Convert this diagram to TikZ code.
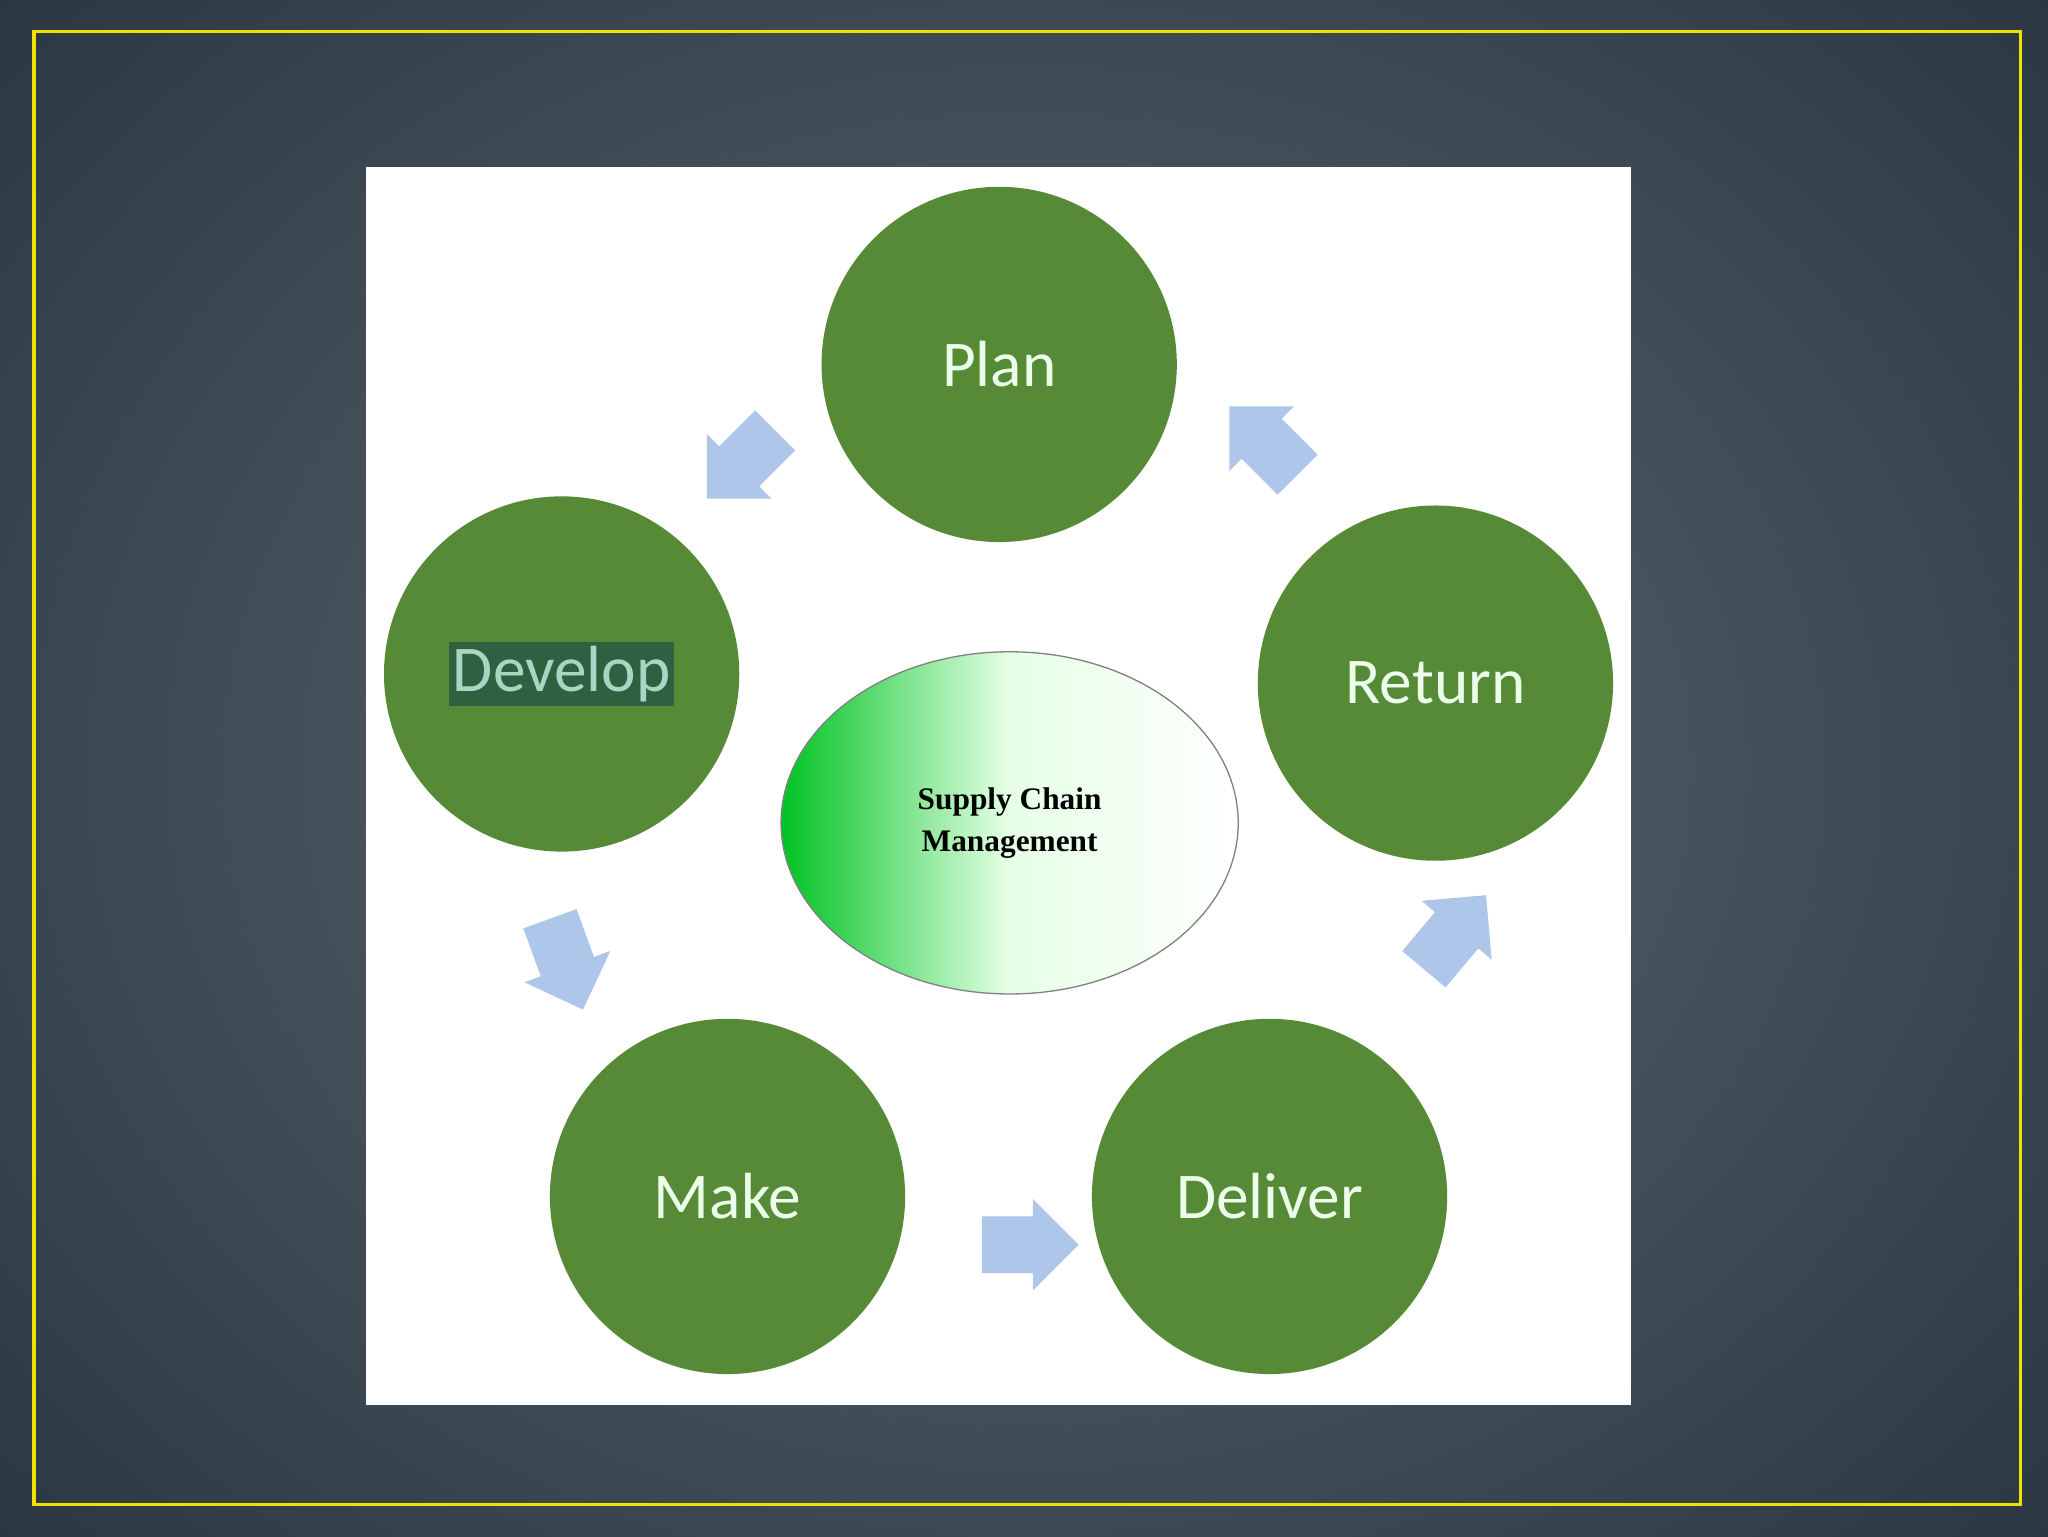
\documentclass[tikz,border=0pt]{standalone}
\usetikzlibrary{shapes.arrows,shapes.geometric}
\usepackage{fontspec}
\setmainfont{Carlito}
\newfontfamily\serifb{Liberation Serif}
\definecolor{bgmid}{HTML}{5E6A74}
\definecolor{bgedge}{HTML}{2A3741}
\definecolor{cgreen}{HTML}{578A37}
\definecolor{arrowblue}{HTML}{AEC6EA}
\definecolor{hl}{HTML}{2F6040}
\definecolor{devtext}{HTML}{A9D6C2}
\tikzset{
  stage/.style={circle,fill=cgreen,minimum size=272pt,inner sep=0pt,text=white!92!green,font=\fontsize{50}{56}\selectfont},
  flow/.style={single arrow,fill=arrowblue,minimum height=74pt,minimum width=70pt,single arrow head extend=10pt,inner sep=16pt}
}
\begin{document}
\begin{tikzpicture}[x=1pt,y=-1pt]
\useasboundingbox (0,0) rectangle (1568,1176);
\fill[bgedge] (0,0) rectangle (1568,1176);
\shade[inner color=bgmid,outer color=bgedge] (-300,-300) rectangle (1868,1476);
\draw[yellow!85!olive,line width=2.5pt] (26,24) rectangle (1547,1152);
\fill[white] (280,128) rectangle (1249,1076);
\node[stage] (plan) at (765,279) {Plan};
\node[stage] (develop) at (430,516) {\colorbox{hl}{\color{devtext}Develop}};
\node[stage] (return) at (1099,523) {Return};
\node[stage] (make) at (557,916) {Make};
\node[stage] (deliver) at (972,916) {Deliver};
\node[ellipse,draw=gray,line width=1pt,minimum width=350pt,minimum height=262pt,left color=green!70!teal!90!black,right color=white,middle color=green!10!white,align=center,font=\serifb\bfseries\fontsize{24}{32}\selectfont] (scm) at (773,630) {Supply Chain\\Management};
\node[flow,rotate=225] (a1) at (575,348) {};
\node[flow,rotate=135] (a2) at (975,345) {};
\node[flow,rotate=290] (a3) at (430,728) {};
\node[flow] (a4) at (778,953) {};
\node[flow,rotate=50] (a5) at (1107,722) {};
\end{tikzpicture}
\end{document}
